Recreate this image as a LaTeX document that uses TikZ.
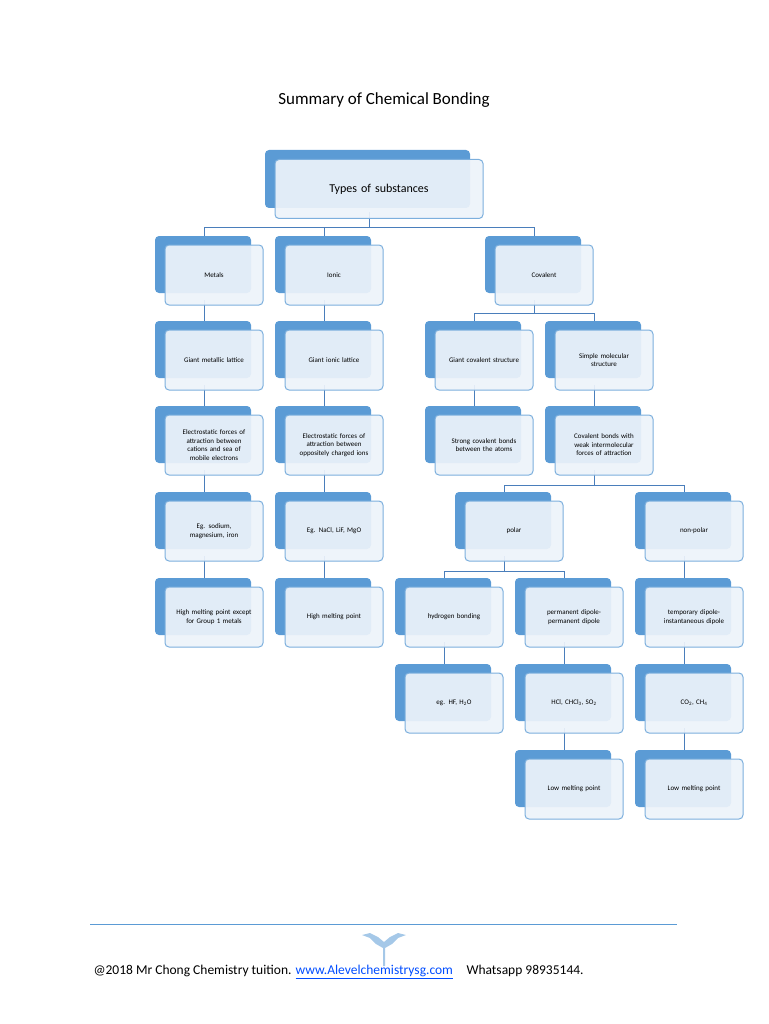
\documentclass[tikz,border=0pt]{standalone}
\usepackage{fontspec}
\setmainfont{Carlito}
\usetikzlibrary{calc}
\hyphenpenalty=10000
\exhyphenpenalty=0
\definecolor{bk}{HTML}{5B9BD5}
\definecolor{fr}{HTML}{EDF3FA}
\definecolor{ln}{HTML}{4A7EBB}
\tikzset{frontbox/.style={draw=bk!80, line width=1pt, fill=fr, fill opacity=0.92, text opacity=1, rounded corners=4pt, align=center, font=\fontsize{7}{8.5}\selectfont, text width=#1},
 backbox/.style={fill=bk, rounded corners=4pt},
 conn/.style={draw=ln, line width=0.9pt}}
\newcommand{\bx}[6]{%
 \fill[backbox] (#2-10-#4/2,-#3+9+#5/2) rectangle (#2-12+#4/2,-#3+12-#5/2);
 \node[frontbox=#4pt-22pt, minimum width=#4pt, minimum height=#5pt, inner sep=0pt] (#1) at (#2,-#3) {#6};
 \coordinate (#1-t) at (#2-10,-#3+9+#5/2);
 \coordinate (#1-b) at (#2-10,-#3-#5/2);}
\begin{document}
\begin{tikzpicture}[x=1pt,y=1pt]
\useasboundingbox (0,0) rectangle (768,-1024);
\node[font=\fontsize{17}{20}\selectfont] (title) at (384,-100) {Summary of Chemical Bonding};
% connectors
\begin{scope}
\draw[conn] (369,-212) -- (369,-227) -| (204,-237);
\draw[conn] (369,-227) -| (324,-237);
\draw[conn] (369,-227) -| (534,-237);
\draw[conn] (204,-300) -- (204,-322); \draw[conn] (324,-300) -- (324,-322);
\draw[conn] (534,-300) -- (534,-313) -| (474,-322);
\draw[conn] (534,-313) -| (594,-322);
\draw[conn] (204,-385) -- (204,-408); \draw[conn] (324,-385) -- (324,-408);
\draw[conn] (474,-385) -- (474,-408); \draw[conn] (594,-385) -- (594,-408);
\draw[conn] (204,-470) -- (204,-494); \draw[conn] (324,-470) -- (324,-494);
\draw[conn] (594,-470) -- (594,-485) -| (504,-494);
\draw[conn] (594,-485) -| (684,-494);
\draw[conn] (204,-556) -- (204,-580); \draw[conn] (324,-556) -- (324,-580);
\draw[conn] (504,-556) -- (504,-571) -| (444,-580);
\draw[conn] (504,-571) -| (564,-580);
\draw[conn] (684,-556) -- (684,-580);
\draw[conn] (444,-642) -- (444,-666); \draw[conn] (564,-642) -- (564,-666); \draw[conn] (684,-642) -- (684,-666);
\draw[conn] (564,-728) -- (564,-752); \draw[conn] (684,-728) -- (684,-752);
\end{scope}
% boxes
\fill[backbox] (265,-150) rectangle (470,-208);
\node[frontbox=190pt, minimum width=208pt, minimum height=59pt, inner sep=0pt, font=\fontsize{12}{14}\selectfont] (types) at (379,-189) {Types of substances};
\bx{metals}{214}{275}{98}{60}{Metals}
\bx{ionic}{334}{275}{98}{60}{Ionic}
\bx{cov}{544}{275}{98}{60}{Covalent}
\bx{gml}{214}{360}{98}{60}{Giant metallic lattice}
\bx{gil}{334}{360}{98}{60}{Giant ionic lattice}
\bx{gcs}{484}{360}{98}{60}{Giant covalent structure}
\bx{sms}{604}{360}{98}{60}{Simple molecular structure}
\bx{ef1}{214}{445}{98}{60}{Electrostatic forces of attraction between cations and sea of mobile electrons}
\bx{ef2}{334}{445}{98}{60}{Electrostatic forces of attraction between oppositely charged ions}
\bx{scb}{484}{445}{98}{60}{Strong covalent bonds between the atoms}
\bx{cbw}{604}{445}{98}{60}{Covalent bonds with weak intermolecular forces of attraction}
\bx{eg1}{214}{531}{98}{60}{Eg. sodium, magnesium, iron}
\bx{eg2}{334}{531}{98}{60}{Eg. NaCl, LiF, MgO}
\bx{polar}{514}{531}{98}{60}{polar}
\bx{nonpolar}{694}{531}{98}{60}{non-polar}
\bx{hm1}{214}{617}{98}{60}{High melting point except for Group 1 metals}
\bx{hm2}{334}{617}{98}{60}{High melting point}
\bx{hb}{454}{617}{98}{60}{hydrogen bonding}
\bx{pd}{574}{617}{98}{60}{permanent dipole-permanent dipole}
\bx{td}{694}{617}{98}{60}{temporary dipole-instantaneous dipole}
\bx{eg3}{454}{703}{98}{60}{eg. HF, H\textsubscript{2}O}
\bx{eg4}{574}{703}{98}{60}{HCl, CHCl\textsubscript{3}, SO\textsubscript{2}}
\bx{eg5}{694}{703}{98}{60}{CO\textsubscript{2}, CH\textsubscript{4}}
\bx{lm1}{574}{789}{98}{60}{Low melting point}
\bx{lm2}{694}{789}{98}{60}{Low melting point}
% footer
\draw[bk, line width=0.6pt] (90,-924) -- (677,-924);
\fill[bk!55] (383,-966) -- (383,-948) -- (376,-944) -- (370,-938) -- (362,-935) -- (370,-933) -- (378,-937) -- (384,-942) -- (390,-937) -- (398,-933) -- (406,-935) -- (398,-938) -- (392,-944) -- (385,-948) -- (385,-966) -- cycle;
\node[anchor=west, font=\fontsize{13.5}{15}\selectfont] (foot) at (90,-972) {@2018 Mr Chong Chemistry tuition. \textcolor{blue!70!cyan}{\underline{www.Alevelchemistrysg.com}}\quad Whatsapp 98935144.};
\end{tikzpicture}
\end{document}
